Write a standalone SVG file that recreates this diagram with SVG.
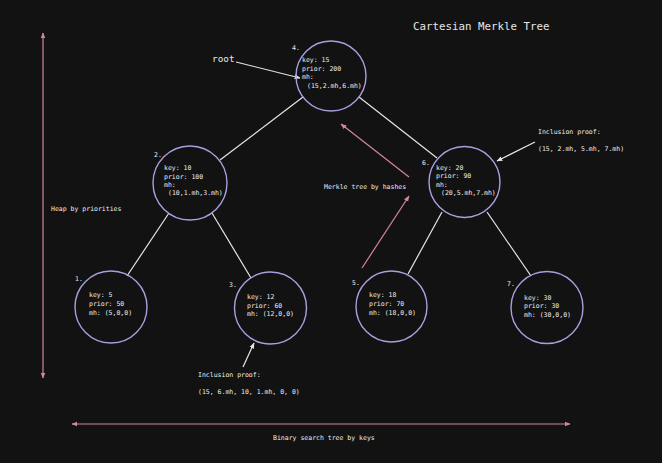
<svg xmlns="http://www.w3.org/2000/svg" width="662" height="463" viewBox="0 0 662 463">
<defs>
<style>
.bg{fill:#121212}
.node{fill:none;stroke:#a99fe0;stroke-width:1.4}
.t{font-family:"DejaVu Sans Mono","Liberation Mono",monospace;font-size:6.5px;fill:#ededed}
.big{font-family:"DejaVu Sans Mono","Liberation Mono",monospace;fill:#e6e6e6}
.edge{stroke:#e6e6e6;stroke-width:1.2;fill:none}
.pink{stroke:#d4869f;stroke-width:1.2;fill:none}
</style>
<marker id="aw" viewBox="0 0 10 10" refX="9" refY="5" markerWidth="6" markerHeight="6" orient="auto-start-reverse" markerUnits="userSpaceOnUse">
<path d="M0,1 L10,5 L0,9 z" fill="#e6e6e6"/>
</marker>
<marker id="ap" viewBox="0 0 10 10" refX="9" refY="5" markerWidth="6" markerHeight="6" orient="auto-start-reverse" markerUnits="userSpaceOnUse">
<path d="M0,1 L10,5 L0,9 z" fill="#d4869f"/>
</marker>
</defs>
<rect class="bg" x="0" y="0" width="662" height="463"/>

<text class="big" x="413" y="30" font-size="10.8">Cartesian Merkle Tree</text>

<g id="connectors">
<line class="edge" x1="303" y1="97" x2="220" y2="160"/>
<line class="edge" x1="359" y1="97" x2="437" y2="158"/>
<line class="edge" x1="169" y1="213" x2="127" y2="276"/>
<line class="edge" x1="212" y1="213" x2="251" y2="278"/>
<line class="edge" x1="442" y1="212" x2="408" y2="274"/>
<line class="edge" x1="487" y1="212" x2="531" y2="276"/>
<line class="edge" x1="236" y1="62" x2="300" y2="78" marker-end="url(#aw)"/>
<line class="edge" x1="535" y1="142" x2="497" y2="161" marker-end="url(#aw)"/>
<line class="edge" x1="243" y1="367" x2="254" y2="343" marker-end="url(#aw)"/>
<line class="pink" x1="409" y1="177" x2="341" y2="124" marker-end="url(#ap)"/>
<line class="pink" x1="362" y1="268" x2="409" y2="196" marker-end="url(#ap)"/>
<line class="pink" x1="43" y1="33" x2="43" y2="378" marker-start="url(#ap)" marker-end="url(#ap)"/>
<line class="pink" x1="72" y1="424" x2="570" y2="424" marker-start="url(#ap)" marker-end="url(#ap)"/>
</g>

<g id="node4">
<circle class="node" cx="331" cy="76" r="35"/>
<text class="t" x="292" y="50">4.</text>
<text class="t" x="302" y="62">key: 15</text>
<text class="t" x="302" y="71">prior: 200</text>
<text class="t" x="302" y="79">mh:</text>
<text class="t" x="307" y="88">(15,2.mh,6.mh)</text>
</g>
<g id="node2">
<circle class="node" cx="190" cy="183" r="37"/>
<text class="t" x="154" y="157">2.</text>
<text class="t" x="164" y="170">key: 10</text>
<text class="t" x="164" y="179">prior: 100</text>
<text class="t" x="164" y="187">mh:</text>
<text class="t" x="168" y="195">(10,1.mh,3.mh)</text>
</g>
<g id="node6">
<circle class="node" cx="464.5" cy="182" r="35.5"/>
<text class="t" x="422" y="165">6.</text>
<text class="t" x="436" y="170">key: 20</text>
<text class="t" x="436" y="178">prior: 90</text>
<text class="t" x="436" y="187">mh:</text>
<text class="t" x="441" y="195">(20,5.mh,7.mh)</text>
</g>
<g id="node1">
<circle class="node" cx="111" cy="307" r="36"/>
<text class="t" x="75" y="281">1.</text>
<text class="t" x="89" y="297">key: 5</text>
<text class="t" x="89" y="306">prior: 50</text>
<text class="t" x="89" y="315">mh: (5,0,0)</text>
</g>
<g id="node3">
<circle class="node" cx="270.5" cy="308" r="36"/>
<text class="t" x="229" y="287">3.</text>
<text class="t" x="247" y="299">key: 12</text>
<text class="t" x="247" y="308">prior: 60</text>
<text class="t" x="247" y="316">mh: (12,0,0)</text>
</g>
<g id="node5">
<circle class="node" cx="391.5" cy="306.5" r="35.5"/>
<text class="t" x="352" y="285">5.</text>
<text class="t" x="369" y="297">key: 18</text>
<text class="t" x="369" y="306">prior: 70</text>
<text class="t" x="369" y="315">mh: (18,0,0)</text>
</g>
<g id="node7">
<circle class="node" cx="547" cy="307.5" r="36"/>
<text class="t" x="507" y="286">7.</text>
<text class="t" x="524" y="300">key: 30</text>
<text class="t" x="524" y="308">prior: 30</text>
<text class="t" x="524" y="317">mh: (30,0,0)</text>
</g>

<g id="labels">
<text class="big" x="212" y="62" font-size="9.4">root</text>
<text class="t" x="538" y="134">Inclusion proof:</text>
<text class="t" x="538" y="151">(15, 2.mh, 5.mh, 7.mh)</text>
<text class="t" x="324" y="189">Merkle tree by hashes</text>
<text class="t" x="198" y="377">Inclusion proof:</text>
<text class="t" x="198" y="394">(15, 6.mh, 10, 1.mh, 0, 0)</text>
<text class="t" x="51" y="211">Heap by priorities</text>
<text class="t" x="273" y="440">Binary search tree by keys</text>
</g>
</svg>
